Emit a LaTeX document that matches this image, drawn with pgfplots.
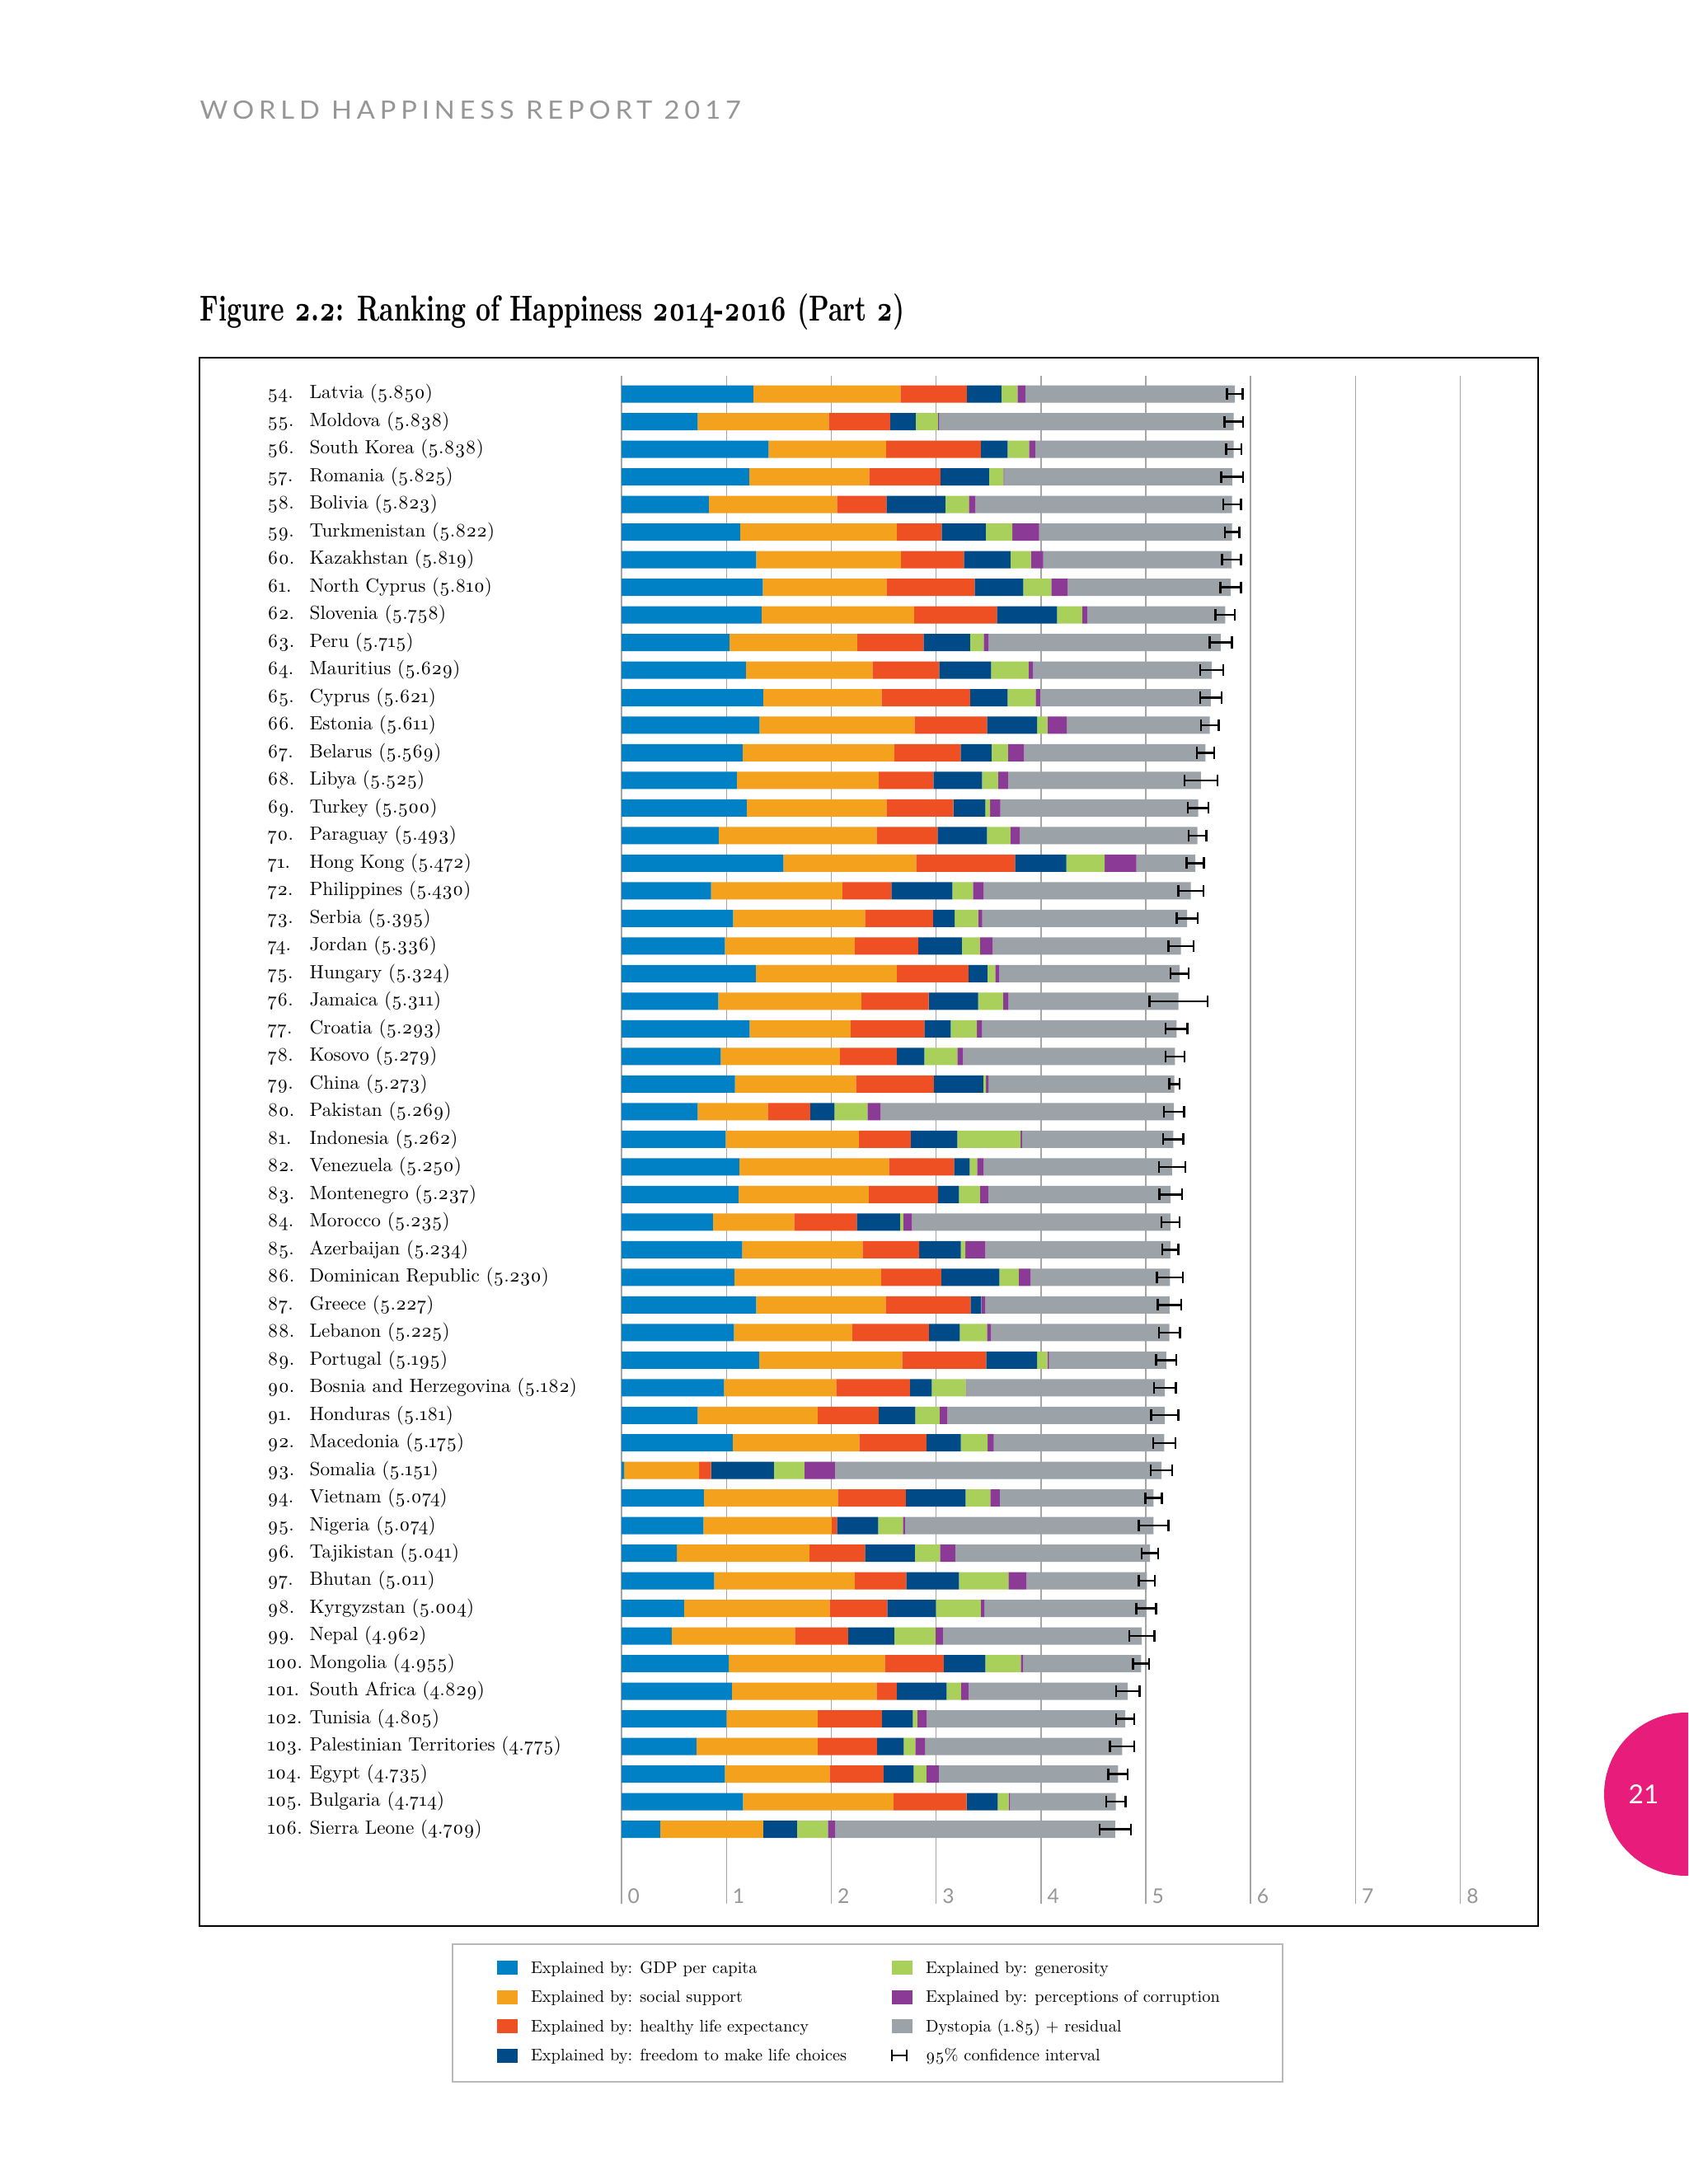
\documentclass[border=0pt]{standalone}
\usepackage{fontspec}
\setmainfont{lmroman10-regular.otf}[BoldFont=lmroman10-bold.otf, ItalicFont=lmroman10-italic.otf, Numbers=OldStyle]
\newfontfamily\hdrfont{Lato}[LetterSpace=18]
\newfontfamily\sansfont{Lato}
\usepackage{pgfplots}
\usepackage{pgfplotstable}
\pgfplotsset{compat=1.18}

\definecolor{cgdp}{RGB}{0,129,198}
\definecolor{csoc}{RGB}{244,161,29}
\definecolor{chle}{RGB}{238,79,35}
\definecolor{cfree}{RGB}{0,74,135}
\definecolor{cgen}{RGB}{168,208,90}
\definecolor{ccorr}{RGB}{139,58,150}
\definecolor{cdys}{RGB}{155,162,168}
\definecolor{gridgray}{RGB}{165,165,165}
\definecolor{tickgray}{RGB}{150,150,150}
\definecolor{hdrgray}{RGB}{150,150,150}
\definecolor{legborder}{RGB}{185,185,185}
\definecolor{pagepink}{RGB}{231,28,123}

% rank, the six explained parts, dystopia + residual, half width of the 95% interval
\pgfplotstableread{
rank gdp soc hle free gen corr dys ci
54 1.257 1.403 0.633 0.330 0.153 0.075 1.999 0.075
55 0.727 1.250 0.585 0.244 0.212 0.010 2.810 0.088
56 1.403 1.120 0.904 0.255 0.204 0.059 1.893 0.073
57 1.218 1.143 0.680 0.464 0.138 0.005 2.177 0.104
58 0.833 1.222 0.472 0.562 0.224 0.063 2.447 0.084
59 1.132 1.493 0.428 0.420 0.255 0.255 1.839 0.069
60 1.285 1.379 0.601 0.444 0.196 0.118 1.796 0.090
61 1.348 1.179 0.841 0.464 0.267 0.157 1.554 0.098
62 1.336 1.454 0.790 0.574 0.240 0.047 1.317 0.092
63 1.029 1.218 0.633 0.444 0.130 0.047 2.214 0.106
64 1.187 1.206 0.637 0.495 0.358 0.043 1.703 0.110
65 1.352 1.128 0.845 0.358 0.267 0.043 1.628 0.102
66 1.316 1.477 0.692 0.479 0.098 0.185 1.364 0.083
67 1.155 1.446 0.633 0.295 0.157 0.153 1.730 0.083
68 1.100 1.352 0.523 0.464 0.153 0.094 1.839 0.157
69 1.194 1.332 0.640 0.303 0.047 0.098 1.886 0.098
70 0.927 1.505 0.582 0.472 0.224 0.090 1.693 0.086
71 1.544 1.265 0.943 0.491 0.365 0.303 0.561 0.083
72 0.853 1.253 0.468 0.582 0.196 0.102 1.976 0.120
73 1.065 1.257 0.648 0.208 0.224 0.039 1.954 0.100
74 0.986 1.238 0.605 0.417 0.173 0.122 1.795 0.120
75 1.281 1.344 0.684 0.181 0.075 0.039 1.720 0.086
76 0.923 1.363 0.644 0.472 0.236 0.051 1.622 0.277
77 1.222 0.963 0.703 0.251 0.251 0.047 1.856 0.104
78 0.947 1.136 0.542 0.263 0.314 0.055 2.022 0.092
79 1.081 1.155 0.743 0.472 0.024 0.024 1.774 0.049
80 0.727 0.668 0.405 0.232 0.314 0.126 2.797 0.098
81 0.994 1.269 0.495 0.444 0.605 0.012 1.443 0.096
82 1.124 1.426 0.621 0.149 0.071 0.063 1.796 0.126
83 1.116 1.242 0.660 0.200 0.200 0.079 1.740 0.108
84 0.872 0.774 0.597 0.413 0.031 0.083 2.465 0.086
85 1.151 1.147 0.542 0.397 0.043 0.189 1.765 0.075
86 1.077 1.399 0.574 0.554 0.185 0.114 1.327 0.122
87 1.285 1.234 0.809 0.102 0.002 0.037 1.758 0.112
88 1.073 1.128 0.731 0.295 0.259 0.039 1.700 0.100
89 1.312 1.363 0.802 0.487 0.098 0.016 1.117 0.096
90 0.978 1.069 0.703 0.208 0.326 0.005 1.893 0.104
91 0.727 1.143 0.582 0.350 0.232 0.075 2.072 0.130
92 1.061 1.206 0.640 0.330 0.255 0.059 1.624 0.106
93 0.024 0.715 0.114 0.601 0.291 0.291 3.115 0.102
94 0.786 1.277 0.648 0.570 0.236 0.090 1.467 0.079
95 0.782 1.222 0.051 0.393 0.236 0.020 2.370 0.141
96 0.527 1.265 0.530 0.475 0.240 0.145 1.859 0.079
97 0.884 1.340 0.491 0.503 0.472 0.173 1.148 0.077
98 0.597 1.387 0.550 0.464 0.428 0.035 1.543 0.094
99 0.479 1.175 0.507 0.440 0.393 0.071 1.897 0.120
100 1.022 1.489 0.562 0.397 0.338 0.024 1.123 0.077
101 1.053 1.379 0.193 0.475 0.138 0.071 1.520 0.112
102 1.002 0.868 0.613 0.295 0.043 0.090 1.894 0.086
103 0.715 1.155 0.566 0.255 0.110 0.094 1.880 0.116
104 0.986 0.998 0.515 0.287 0.122 0.118 1.709 0.094
105 1.159 1.434 0.699 0.295 0.106 0.012 1.009 0.092
106 0.369 0.982 0.000 0.322 0.295 0.071 2.670 0.149
}\happy

\newcommand{\lab}[2]{\makebox[0.51cm][l]{#1.}#2}
\newcommand{\legbox}[1]{\makebox[4.35cm][l]{#1}}

\begin{document}
\begin{tikzpicture}
\fill[white] (0,0) rectangle (20.48,-26.5);
\useasboundingbox (0,0) rectangle (20.48,-26.5);

\node[anchor=base west, inner sep=0pt, text=hdrgray] at (2.42,-1.45)
  {\resizebox{6.56cm}{\height}{\hdrfont\fontsize{8.7}{10}\selectfont WORLD HAPPINESS REPORT 2017}};
\node[anchor=base west, inner sep=0pt] at (2.42,-3.90)
  {\resizebox{8.55cm}{\height}{\fontsize{12.5}{14}\selectfont\bfseries Figure 2.2: Ranking of Happiness 2014-2016 (Part 2)}};

\draw[line width=0.6pt] (2.42,-4.34) rectangle (18.66,-23.37);
\draw[draw=legborder, line width=0.5pt] (5.49,-23.59) rectangle (15.56,-25.26);

\begin{scope}
\clip (0,0) rectangle (20.48,-26.5);
\fill[pagepink] (20.45,-21.77) circle (0.99);
\end{scope}
\node[text=white] at (19.94,-21.77) {\sansfont\fontsize{9}{10}\selectfont 21};

\begin{axis}[
  at={(7.54cm,-23.10cm)}, anchor=south west,
  scale only axis, width=10.176cm, height=18.54cm,
  xmin=0, xmax=8, ymin=-108.7, ymax=-53.34,
  xbar stacked, bar width=0.21cm,
  axis line style={draw=none},
  tick style={draw=none}, major tick length=0pt,
  xtick={0,...,8}, xticklabels={0,1,2,3,4,5,6,7,8},
  xmajorgrids, grid style={gridgray, line width=0.4pt},
  xticklabel style={anchor=south west, inner sep=0pt, xshift=0.07cm,
    font=\sansfont\fontsize{7}{8}\selectfont, text=tickgray},
  ytick={-54,-55,...,-106},
  yticklabels={
    \lab{54}{Latvia (5.850)}, \lab{55}{Moldova (5.838)}, \lab{56}{South Korea (5.838)},
    \lab{57}{Romania (5.825)}, \lab{58}{Bolivia (5.823)}, \lab{59}{Turkmenistan (5.822)},
    \lab{60}{Kazakhstan (5.819)}, \lab{61}{North Cyprus (5.810)}, \lab{62}{Slovenia (5.758)},
    \lab{63}{Peru (5.715)}, \lab{64}{Mauritius (5.629)}, \lab{65}{Cyprus (5.621)},
    \lab{66}{Estonia (5.611)}, \lab{67}{Belarus (5.569)}, \lab{68}{Libya (5.525)},
    \lab{69}{Turkey (5.500)}, \lab{70}{Paraguay (5.493)}, \lab{71}{Hong Kong (5.472)},
    \lab{72}{Philippines (5.430)}, \lab{73}{Serbia (5.395)}, \lab{74}{Jordan (5.336)},
    \lab{75}{Hungary (5.324)}, \lab{76}{Jamaica (5.311)}, \lab{77}{Croatia (5.293)},
    \lab{78}{Kosovo (5.279)}, \lab{79}{China (5.273)}, \lab{80}{Pakistan (5.269)},
    \lab{81}{Indonesia (5.262)}, \lab{82}{Venezuela (5.250)}, \lab{83}{Montenegro (5.237)},
    \lab{84}{Morocco (5.235)}, \lab{85}{Azerbaijan (5.234)}, \lab{86}{Dominican Republic (5.230)},
    \lab{87}{Greece (5.227)}, \lab{88}{Lebanon (5.225)}, \lab{89}{Portugal (5.195)},
    \lab{90}{Bosnia and Herzegovina (5.182)}, \lab{91}{Honduras (5.181)}, \lab{92}{Macedonia (5.175)},
    \lab{93}{Somalia (5.151)}, \lab{94}{Vietnam (5.074)}, \lab{95}{Nigeria (5.074)},
    \lab{96}{Tajikistan (5.041)}, \lab{97}{Bhutan (5.011)}, \lab{98}{Kyrgyzstan (5.004)},
    \lab{99}{Nepal (4.962)}, \lab{100}{Mongolia (4.955)}, \lab{101}{South Africa (4.829)},
    \lab{102}{Tunisia (4.805)}, \lab{103}{Palestinian Territories (4.775)}, \lab{104}{Egypt (4.735)},
    \lab{105}{Bulgaria (4.714)}, \lab{106}{Sierra Leone (4.709)}},
  yticklabel style={anchor=west, inner sep=0pt, xshift=-4.30cm,
    font=\fontsize{6.6}{7.9}\selectfont},
  legend columns=4, transpose legend, legend cell align=left,
  legend image code/.code={\fill[#1] (0cm,-0.085cm) rectangle (0.25cm,0.085cm);},
  legend style={at={(axis cs:-1.187,-110.49)}, anchor=north west,
    draw=none, fill=none, inner sep=0pt, outer sep=0pt,
    font=\fontsize{5.8}{6.9}\selectfont, row sep=0pt, column sep=0pt,
    nodes={inner xsep=0.02cm, inner ysep=0.045cm, text height=0.2cm, text depth=0.065cm},
    /tikz/every odd column/.append style={column sep=0.14cm},
    /tikz/every even column/.append style={column sep=0cm}},
  legend entries={\legbox{Explained by: GDP per capita}, \legbox{Explained by: social support},
    \legbox{Explained by: healthy life expectancy}, \legbox{Explained by: freedom to make life choices},
    Explained by: generosity, Explained by: perceptions of corruption,
    Dystopia (1.85) + residual, 95\% confidence interval},
]
\addplot[fill=cgdp, draw=none] table[x=gdp, y expr=-\thisrow{rank}]{\happy};
\addplot[fill=csoc, draw=none] table[x=soc, y expr=-\thisrow{rank}]{\happy};
\addplot[fill=chle, draw=none] table[x=hle, y expr=-\thisrow{rank}]{\happy};
\addplot[fill=cfree, draw=none] table[x=free, y expr=-\thisrow{rank}]{\happy};
\addplot[fill=cgen, draw=none] table[x=gen, y expr=-\thisrow{rank}]{\happy};
\addplot[fill=ccorr, draw=none] table[x=corr, y expr=-\thisrow{rank}]{\happy};
\addplot[fill=cdys, draw=none,
  error bars/.cd, x dir=both, x explicit, error mark=|,
  error bar style={black, line width=0.7pt},
  error mark options={black, line width=0.7pt, mark size=2pt}]
  table[x=dys, y expr=-\thisrow{rank}, x error=ci]{\happy};
\addlegendimage{legend image code/.code={
  \draw[black, line width=0.6pt] (0cm,0cm) -- (0.18cm,0cm);
  \draw[black, line width=0.6pt] (0cm,-0.07cm) -- (0cm,0.07cm) (0.18cm,-0.07cm) -- (0.18cm,0.07cm);}}
\end{axis}
\end{tikzpicture}
\end{document}
